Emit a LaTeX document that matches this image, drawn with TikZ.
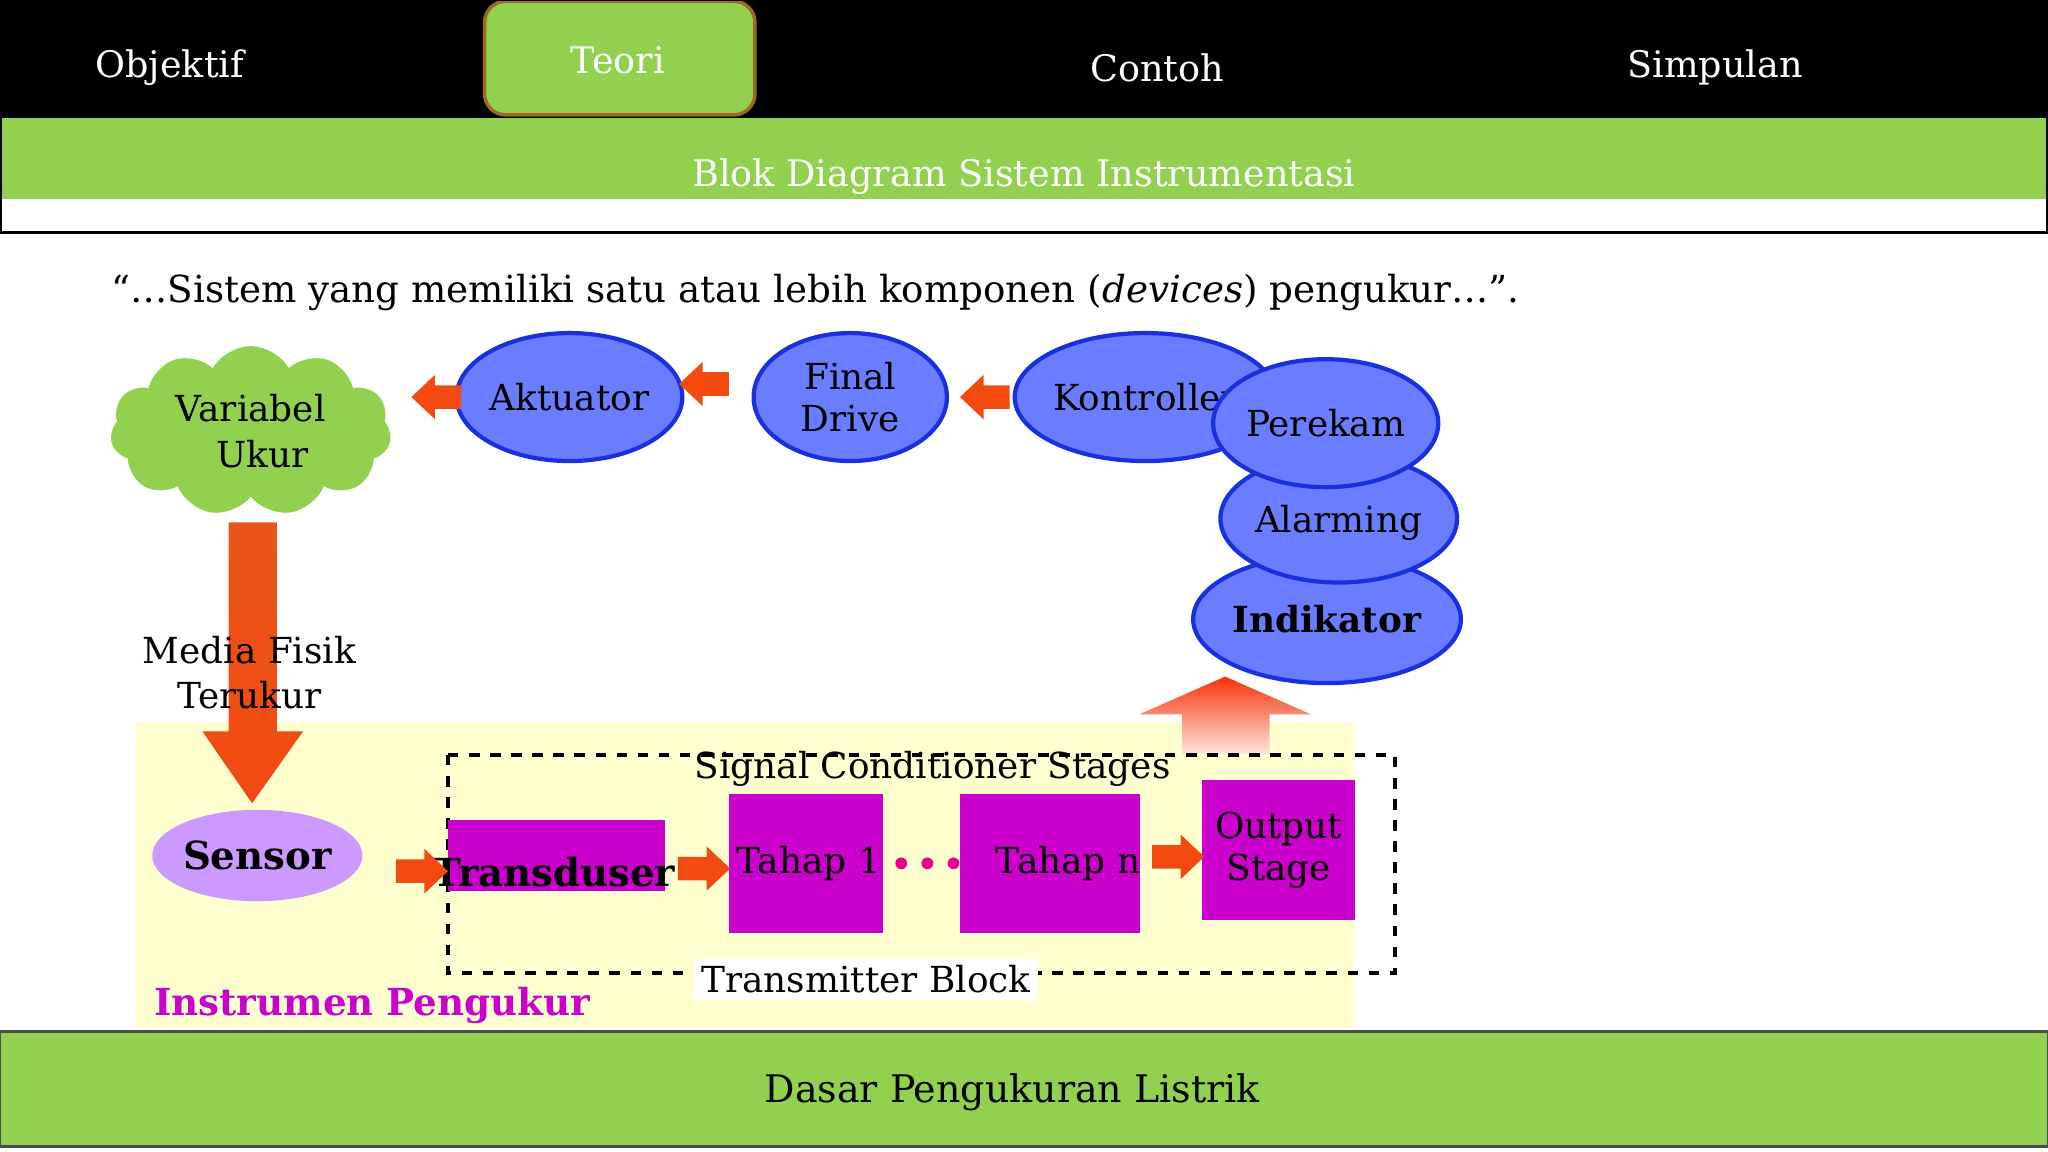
\documentclass[tikz,border=0pt]{standalone}
\usepackage{fontspec}
\setmainfont{DejaVu Serif}
\usetikzlibrary{shapes.symbols,shapes.geometric}
\definecolor{grn}{HTML}{92D050}
\definecolor{blu}{HTML}{6A7DFF}
\definecolor{bld}{HTML}{1A2FE0}
\definecolor{mag}{HTML}{CC00CC}
\definecolor{org}{HTML}{F24A10}
\definecolor{yel}{HTML}{FFFFD0}
\definecolor{tabb}{HTML}{9A6A20}
\definecolor{sen}{HTML}{CC99FF}
\newlength{\pxu}\setlength{\pxu}{0.01306cm}
\tikzset{
 ov/.style={ellipse,draw=bld,line width=1.2pt,fill=blu,minimum width=148\pxu,minimum height=98\pxu,inner sep=0pt,font=\fontsize{10.2}{12}\selectfont,align=center},
 mbox/.style={fill=mag,inner sep=0pt,font=\fontsize{10.2}{12}\selectfont,align=center},
 tab/.style={text=white,font=\fontsize{10.4}{12}\selectfont},
}
\begin{document}
\begin{tikzpicture}[x=0.01306cm,y=-0.01306cm]
\useasboundingbox (0,0) rectangle (1568,882);
% header
\fill[black] (0,0) rectangle (1568,90);
\fill[grn,draw=tabb,line width=1pt,rounded corners=6] (371,1) rectangle (578,88);
\node[tab] (t1) at (130,52) {Objektif};
\node[tab] (t2) at (473,46) {Teori};
\node[tab] (t3) at (886,52) {Contoh};
\node[tab] (t4) at (1313,52) {Simpulan};
\fill[grn] (0,90) rectangle (1568,152);
\draw[black,line width=0.8pt] (0.5,0) rectangle (1567.5,178);
\node[tab] (title) at (784,135) {Blok Diagram Sistem Instrumentasi};
% quote
\node[anchor=west,font=\fontsize{10.6}{13}\selectfont] (q) at (76,224) {“…Sistem yang memiliki satu atau lebih komponen (\textit{devices}) pengukur…”.};
% yellow bg
\fill[yel] (104,553) rectangle (1037,787);
% cloud
\node[cloud,cloud puffs=11,cloud puff arc=120,aspect=1.7,inner sep=0pt,fill=grn,minimum width=215\pxu,minimum height=130\pxu,align=center,font=\fontsize{10.2}{13}\selectfont] (cl) at (192,330) {Variabel\\ \ \ Ukur};
% down arrow
\shade[top color=org!80!brown,bottom color=org] (175,400) -- (212,400) -- (212,560) -- (232,560) -- (193,615) -- (155,560) -- (175,560) -- cycle;
\node[align=center,font=\fontsize{10.2}{13}\selectfont] (mf) at (191,515) {Media Fisik\\ Terukur};
% top ellipses
\node[ov] (akt) at (436,304) {Aktuator};
\node[ov] (fd) at (651,304) {Final\\ Drive};
\node[ov] (kon) at (877,304) {Kontroller};
\node[ov] (ind) at (1016,474) {\textbf{Indikator}};
\node[ov] (alm) at (1025,397) {\\[-2pt]Alarming};
\node[ov] (per) at (1015,324) {Perekam};
% left arrows
\foreach \x/\y in {335/304, 540/294, 755/304}{
 \fill[org] (\x+18,\y-9) -- (\x-2,\y-9) -- (\x-2,\y-17) -- (\x-20,\y) -- (\x-2,\y+17) -- (\x-2,\y+9) -- (\x+18,\y+9) -- cycle;}
% up arrow
\shade[top color=org!70!red,bottom color=org!15] (905,577) -- (905,547) -- (872,547) -- (938,518) -- (1004,547) -- (972,547) -- (972,577) -- cycle;
% dashed
\draw[dashed,line width=1pt] (343,578) rectangle (1068,745);
\node[font=\fontsize{10.2}{12}\selectfont] (scs) at (714,589) {Signal Conditioner Stages};
\node[fill=white,font=\fontsize{10.2}{12}\selectfont,inner sep=2pt] (tb) at (663,750) {Transmitter Block};
% sensor
\node[ellipse,fill=sen,inner sep=0pt,minimum width=126\pxu,minimum height=70\pxu,font=\bfseries\fontsize{11}{13}\selectfont] (sen) at (197,655) {Sensor};
\node[mbox,minimum width=166\pxu,minimum height=55\pxu] (tr) at (426,655) {};
\node[font=\bfseries\fontsize{11}{13}\selectfont] (trt) at (424,668) {Transduser};
\node[mbox,minimum width=118\pxu,minimum height=106\pxu] (th1) at (617,661) {\,Tahap 1\hfill};
\node[mbox,minimum width=118\pxu,minimum height=106\pxu] (thn) at (804,661) {\quad Tahap n};
\node[mbox,minimum width=117\pxu,minimum height=107\pxu] (os) at (979,651) {Output\\ Stage};
\foreach \x in {690,710,730}{\fill[magenta] (\x,661) circle (4.5);}
% right arrows
\foreach \x/\y in {323/667, 539/665, 902/656}{
 \fill[org] (\x-20,\y-9) -- (\x+2,\y-9) -- (\x+2,\y-17) -- (\x+20,\y) -- (\x+2,\y+17) -- (\x+2,\y+9) -- (\x-20,\y+9) -- cycle;}
\node[text=mag,font=\bfseries\fontsize{10.6}{13}\selectfont] (ip) at (285,770) {Instrumen Pengukur};
% bottom
\fill[grn,draw=black!70,line width=0.8pt] (0,790) rectangle (1568,878);
\node[font=\fontsize{10.8}{13}\selectfont] (dp) at (775,836) {Dasar Pengukuran Listrik};
\end{tikzpicture}
\end{document}
